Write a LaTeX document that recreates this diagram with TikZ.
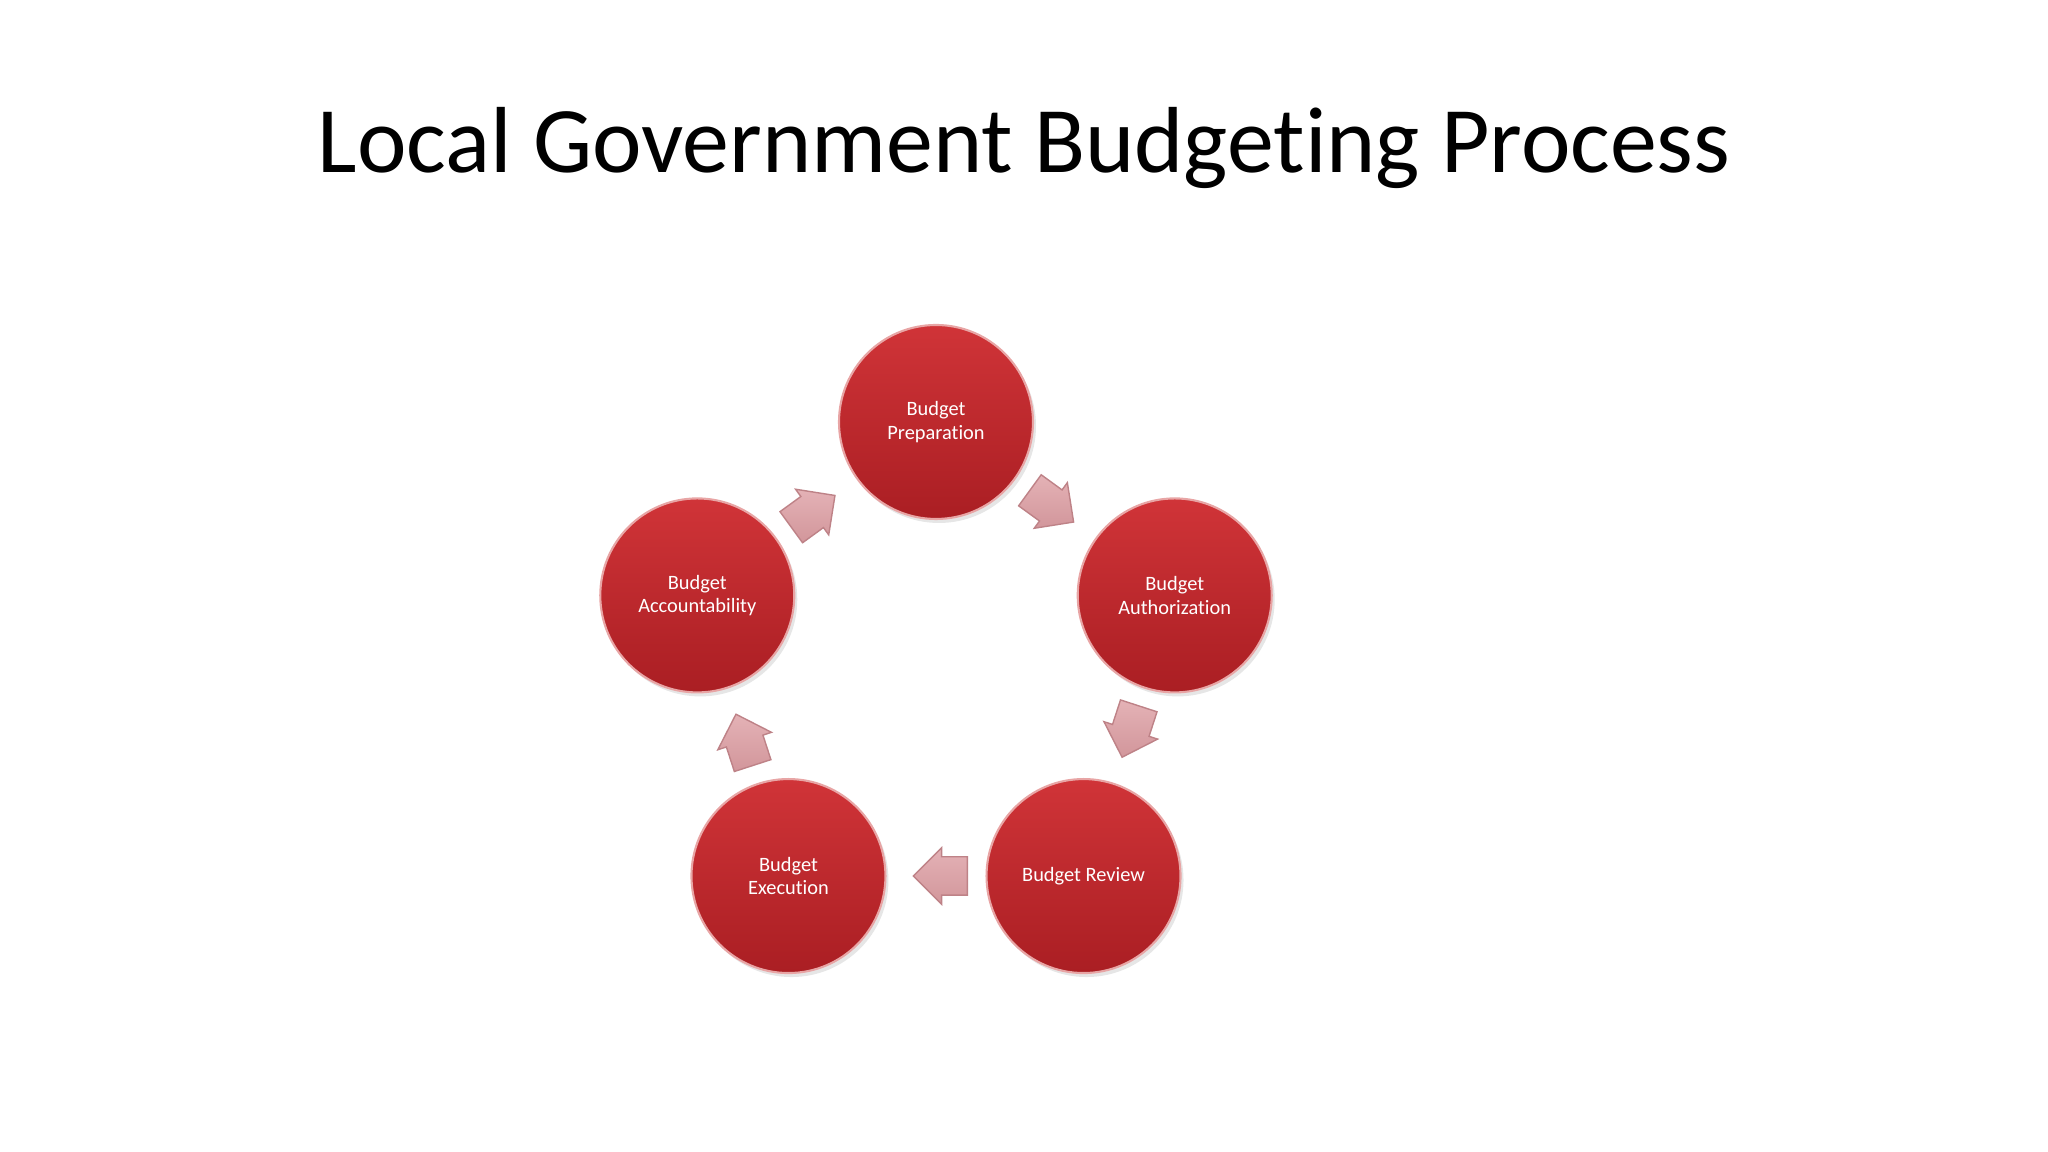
\documentclass[tikz,border=0pt]{standalone}
\usepackage{fontspec}
\setmainfont{Carlito}[Ligatures=NoCommon]
\usetikzlibrary{shapes.arrows,shadows}

\begin{document}
\begin{tikzpicture}[
  stage/.style={circle, minimum size=1.94cm, inner sep=0pt, align=center,
    text=white, font=\fontsize{5.8}{6.6}\selectfont,
    draw=rimcol, line width=0.6pt, top color=balltop, bottom color=balldark,
    drop shadow={opacity=0.2, shadow xshift=0.03cm, shadow yshift=-0.04cm}},
  flow/.style={single arrow, minimum height=0.54cm, minimum width=0.55cm,
    single arrow head extend=0.09cm, single arrow tip angle=90,
    inner xsep=0pt, inner ysep=0.185cm,
    draw=arrowedge, line width=0.4pt, top color=arrowtop, bottom color=arrowcol}
]
% Define colours
\definecolor{balltop}{RGB}{208,52,56}     % Light red
\definecolor{balldark}{RGB}{170,30,35}    % Dark red
\definecolor{rimcol}{RGB}{232,165,165}    % Pale rim
\definecolor{arrowtop}{RGB}{228,178,182}  % Pale pink
\definecolor{arrowcol}{RGB}{210,150,155}  % Dusty pink
\definecolor{arrowedge}{RGB}{190,130,135}

% Page size
\useasboundingbox (0,0) rectangle (20.48,11.52);

% Title
\node[anchor=base, font=\fontsize{26.7}{32}\selectfont] (title) at (10.24,9.79)
  {Local Government Budgeting Process};

% Centre of the cycle
\coordinate (centre) at (9.36,4.79);

% Stages
\node[stage] (prep)   at ([shift={(90:2.51)}]centre)   {Budget\\Preparation};
\node[stage] (auth)   at ([shift={(18:2.51)}]centre)   {Budget\\Authorization};
\node[stage] (review) at ([shift={(-54:2.51)}]centre)  {Budget Review};
\node[stage] (exec)   at ([shift={(-126:2.51)}]centre) {Budget\\Execution};
\node[stage] (acc)    at ([shift={(162:2.51)}]centre)  {Budget\\Accountability};

% Block arrows between stages (pulled back a little along their direction)
\node[flow, rotate=-36]  (prepauth)   at ([shift={(54:2.03)}, shift={(144:0.14)}]centre)   {};
\node[flow, rotate=-108] (authreview) at ([shift={(-18:2.03)}, shift={(72:0.14)}]centre)   {};
\node[flow, rotate=180]  (reviewexec) at ([shift={(-90:2.03)}, shift={(0:0.14)}]centre)    {};
\node[flow, rotate=108]  (execacc)    at ([shift={(-162:2.03)}, shift={(-72:0.14)}]centre) {};
\node[flow, rotate=36]   (accprep)    at ([shift={(126:2.03)}, shift={(216:0.14)}]centre)  {};
\end{tikzpicture}
\end{document}
